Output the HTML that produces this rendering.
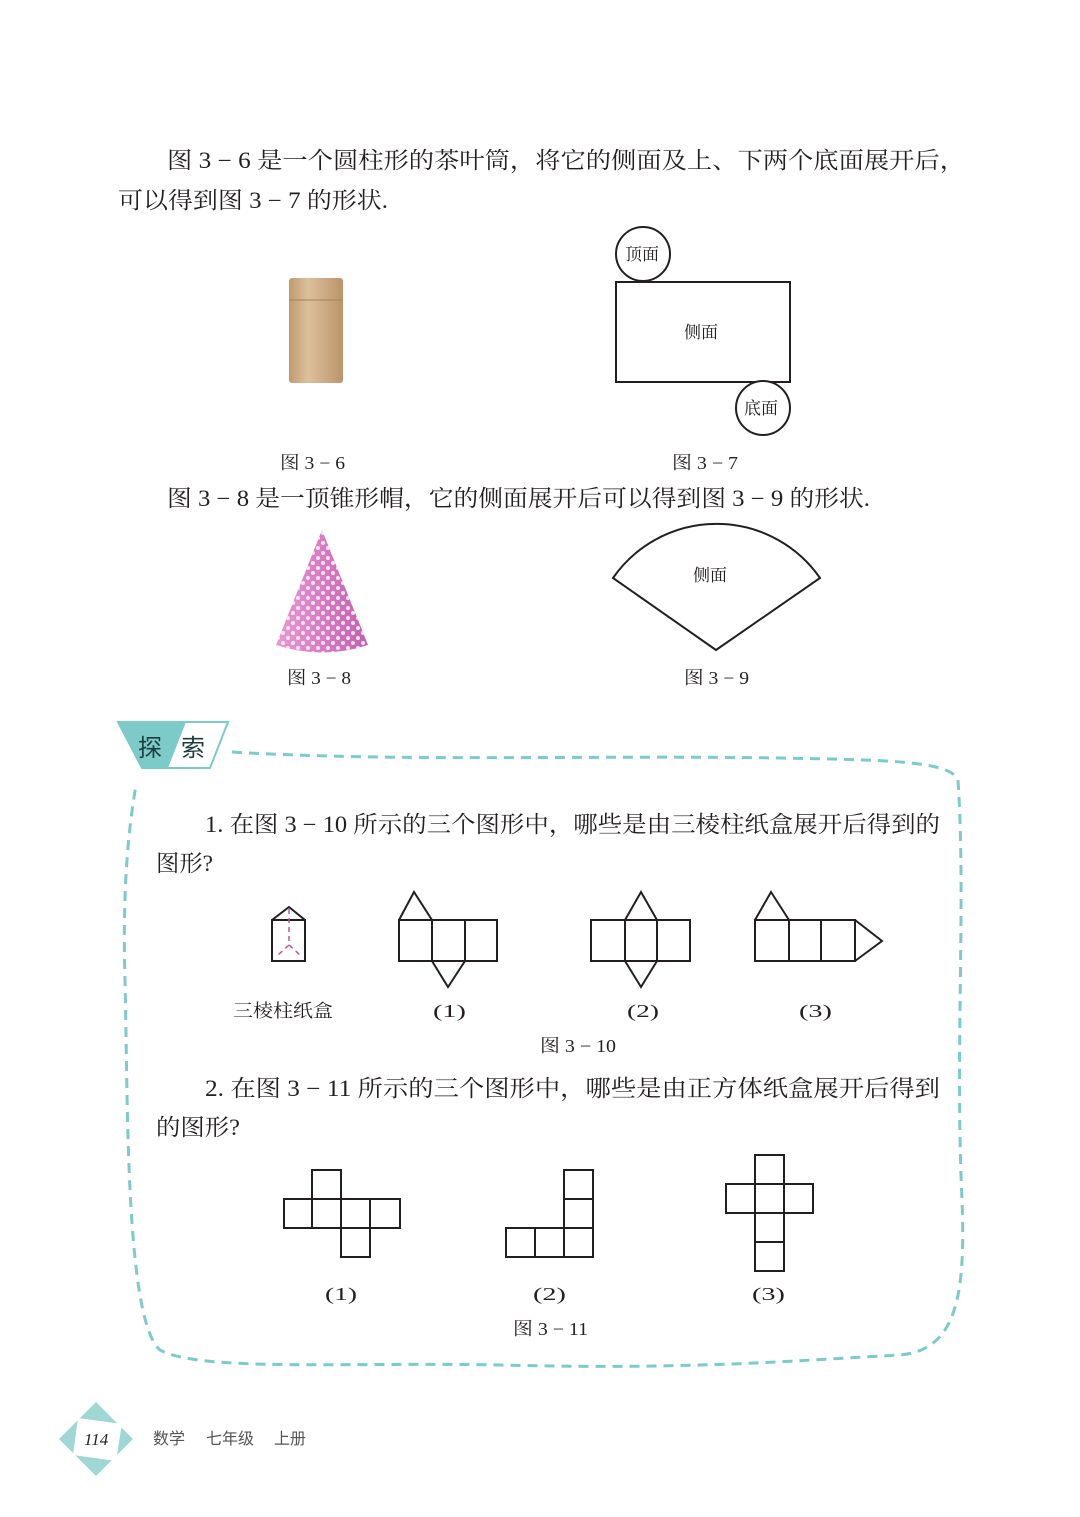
<!DOCTYPE html>
<html><head><meta charset="utf-8"><style>
html,body{margin:0;padding:0;background:#fff;}
svg{display:block;}
.t{font-family:"Liberation Serif","Noto Serif CJK SC",serif;fill:#231f20;}
.s{font-family:"Liberation Sans","Noto Sans CJK SC",sans-serif;}
</style></head><body>
<svg width="1080" height="1517" viewBox="0 0 1080 1517" xmlns="http://www.w3.org/2000/svg">
<defs>
<pattern id="dots" width="10" height="10" patternUnits="userSpaceOnUse">
<circle cx="3" cy="3" r="2" fill="#fbe3f3"/><circle cx="8" cy="8" r="2" fill="#fbe3f3"/>
</pattern>
<linearGradient id="cyl" x1="0" x2="1">
<stop offset="0" stop-color="#c09a70"/><stop offset="0.35" stop-color="#dcc09c"/><stop offset="1" stop-color="#bb946a"/>
</linearGradient>
<linearGradient id="cone" x1="0" x2="1">
<stop offset="0" stop-color="#e69ad2"/><stop offset="0.5" stop-color="#d77cc2"/><stop offset="1" stop-color="#c060ac"/>
</linearGradient>
</defs>

<g class="t" font-size="23">
<text x="167" y="168" textLength="798" lengthAdjust="spacingAndGlyphs">图 3 − 6 是一个圆柱形的茶叶筒，将它的侧面及上、下两个底面展开后，</text>
<text x="118" y="208" textLength="270" lengthAdjust="spacingAndGlyphs">可以得到图 3 − 7 的形状.</text>
<text x="167" y="506" textLength="703" lengthAdjust="spacingAndGlyphs">图 3 − 8 是一顶锥形帽，它的侧面展开后可以得到图 3 − 9 的形状.</text>
<text x="205" y="832" textLength="735" lengthAdjust="spacingAndGlyphs">1. 在图 3 − 10 所示的三个图形中，哪些是由三棱柱纸盒展开后得到的</text>
<text x="156" y="871" textLength="57" lengthAdjust="spacingAndGlyphs">图形?</text>
<text x="205" y="1096" textLength="735" lengthAdjust="spacingAndGlyphs">2. 在图 3 − 11 所示的三个图形中，哪些是由正方体纸盒展开后得到</text>
<text x="156" y="1135" textLength="84" lengthAdjust="spacingAndGlyphs">的图形?</text>
</g>
<g class="t" font-size="18">
<text x="280" y="469" textLength="65" lengthAdjust="spacingAndGlyphs">图 3 − 6</text>
<text x="672" y="469" textLength="66" lengthAdjust="spacingAndGlyphs">图 3 − 7</text>
<text x="287" y="684" textLength="64" lengthAdjust="spacingAndGlyphs">图 3 − 8</text>
<text x="684" y="684" textLength="65" lengthAdjust="spacingAndGlyphs">图 3 − 9</text>
<text x="233" y="1017" textLength="100" lengthAdjust="spacingAndGlyphs">三棱柱纸盒</text>
<text x="433" y="1017" textLength="33" lengthAdjust="spacingAndGlyphs">(1)</text>
<text x="627" y="1017" textLength="32" lengthAdjust="spacingAndGlyphs">(2)</text>
<text x="799" y="1017" textLength="33" lengthAdjust="spacingAndGlyphs">(3)</text>
<text x="540" y="1052" textLength="76" lengthAdjust="spacingAndGlyphs">图 3 − 10</text>
<text x="325" y="1300" textLength="32" lengthAdjust="spacingAndGlyphs">(1)</text>
<text x="533" y="1300" textLength="33" lengthAdjust="spacingAndGlyphs">(2)</text>
<text x="752" y="1300" textLength="33" lengthAdjust="spacingAndGlyphs">(3)</text>
<text x="513" y="1335" textLength="75" lengthAdjust="spacingAndGlyphs">图 3 − 11</text>
</g>

<rect x="289" y="278" width="54" height="105" rx="3" fill="url(#cyl)"/>
<line x1="289" y1="300" x2="343" y2="300" stroke="#a88057" stroke-width="1"/>

<g fill="none" stroke="#231f20" stroke-width="2">
<rect x="616" y="282" width="174" height="100" fill="#fff"/>
<circle cx="643" cy="254" r="27" fill="#fff"/>
<circle cx="763" cy="408" r="27" fill="#fff"/>
</g>
<g class="t" font-size="17">
<text x="625" y="260">顶面</text>
<text x="684" y="338">侧面</text>
<text x="744" y="414">底面</text>
<text x="693" y="581">侧面</text>
</g>

<path d="M322,530 L368,645 Q322,660 276,645 Z" fill="url(#cone)"/>
<path d="M322,530 L368,645 Q322,660 276,645 Z" fill="url(#dots)"/>

<path d="M716,650 L613,578 A126,126 0 0 1 820,578 Z" fill="none" stroke="#231f20" stroke-width="2"/>

<polygon points="118,722 228,722 210,768 142,768" fill="#fff" stroke="#7ccbc9" stroke-width="2"/>
<polygon points="118,722 186,722 168,768 142,768" fill="#7ccbc9"/>
<text x="138" y="756" font-size="24" class="s" fill="#1e3c3c">探</text>
<text x="181" y="756" font-size="24" class="s" fill="#1e3c3c">索</text>

<path d="M232,752 C400,762 600,755 780,758 C880,760 950,760 958,780 C966,900 955,1050 962,1200 C966,1300 955,1350 900,1355 C800,1360 700,1370 500,1365 C350,1362 200,1372 160,1350 C125,1320 128,1100 125,980 C122,880 130,820 136,785" fill="none" stroke="#7ccbc9" stroke-width="3" stroke-dasharray="10,7"/>

<g fill="none" stroke="#231f20" stroke-width="2">
<rect x="272" y="920" width="33" height="41"/>
<polyline points="272,920 289,907 305,920"/>
<rect x="399" y="920" width="98" height="41"/>
<line x1="432" y1="920" x2="432" y2="961"/><line x1="465" y1="920" x2="465" y2="961"/>
<polyline points="399,920 414,892 432,920"/>
<polyline points="432,961 448,987 465,961"/>
<rect x="591" y="920" width="99" height="41"/>
<line x1="625" y1="920" x2="625" y2="961"/><line x1="657" y1="920" x2="657" y2="961"/>
<polyline points="625,920 641,892 657,920"/>
<polyline points="625,961 641,987 657,961"/>
<rect x="755" y="920" width="100" height="41"/>
<line x1="789" y1="920" x2="789" y2="961"/><line x1="821" y1="920" x2="821" y2="961"/>
<polyline points="755,920 771,892 789,920"/>
<polyline points="855,920 882,941 855,961"/>
</g>
<g fill="none" stroke="#c0569d" stroke-width="1.5" stroke-dasharray="5,4">
<line x1="289" y1="909" x2="289" y2="945"/>
<line x1="289" y1="945" x2="278" y2="955"/><line x1="289" y1="945" x2="300" y2="955"/>
</g>

<g fill="none" stroke="#231f20" stroke-width="2">
<rect x="312" y="1170" width="29" height="29"/>
<rect x="284" y="1199" width="28" height="29"/><rect x="312" y="1199" width="29" height="29"/>
<rect x="341" y="1199" width="29" height="29"/><rect x="370" y="1199" width="30" height="29"/>
<rect x="341" y="1228" width="29" height="29"/>
<rect x="564" y="1170" width="29" height="29"/><rect x="564" y="1199" width="29" height="29"/>
<rect x="506" y="1228" width="29" height="29"/><rect x="535" y="1228" width="29" height="29"/><rect x="564" y="1228" width="29" height="29"/>
<rect x="755" y="1155" width="29" height="29"/>
<rect x="726" y="1184" width="29" height="29"/><rect x="755" y="1184" width="29" height="29"/><rect x="784" y="1184" width="29" height="29"/>
<rect x="755" y="1213" width="29" height="29"/><rect x="755" y="1242" width="29" height="29"/>
</g>

<polygon points="96,1402 133,1439 96,1476 59,1439" fill="#9fd7d5"/>
<polygon points="78,1418 122,1424 116,1461 73,1455" fill="#fff"/>
<text x="84" y="1445" font-size="17" font-style="italic" class="t">114</text>
<text x="153" y="1444" font-size="16" class="s" fill="#555">数学</text>
<text x="206" y="1444" font-size="16" class="s" fill="#555">七年级</text>
<text x="274" y="1444" font-size="16" class="s" fill="#555">上册</text>
</svg>
</body></html>
